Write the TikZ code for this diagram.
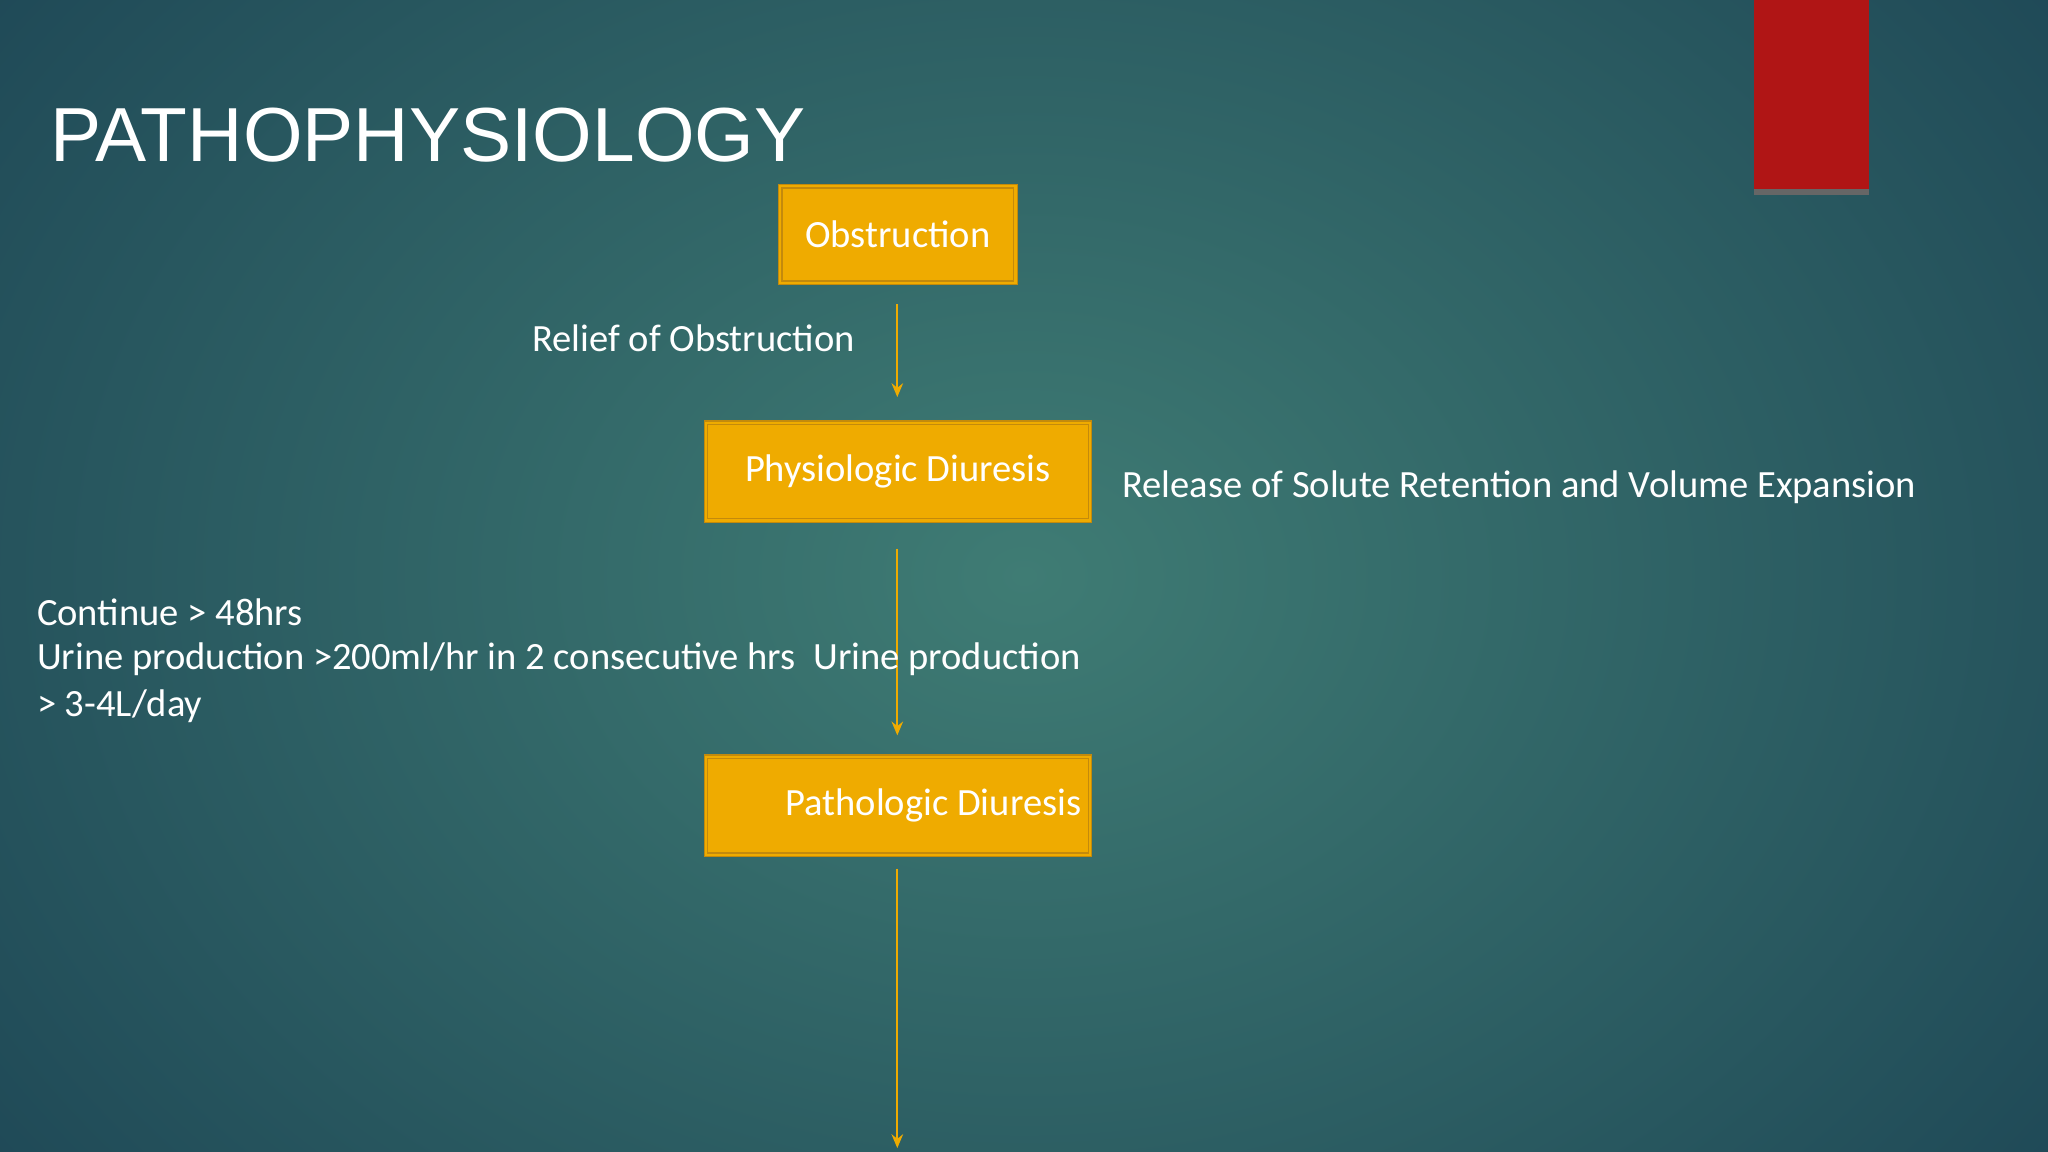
\documentclass[tikz,border=0pt]{standalone}
\usepackage{fontspec}
\setmainfont{Carlito}
\newfontfamily\titlefont{Liberation Sans}
\usetikzlibrary{arrows.meta}
\definecolor{bgc}{HTML}{3F7C74}
\definecolor{bge}{HTML}{1C4454}
\definecolor{boxf}{HTML}{EFAB00}
\definecolor{boxd}{HTML}{C38A0C}
\definecolor{redb}{HTML}{B01515}
\tikzset{
  flow/.style={draw=boxd, line width=0.6pt, double=boxf, double distance=0.9pt, fill=boxf, text=white, font=\fontsize{16.8}{20}\selectfont, inner sep=0pt},
  conn/.style={draw=boxf, line width=0.9pt, -{Stealth[length=6pt,width=5pt]}},
  lbl/.style={text=white, font=\fontsize{16.8}{20}\selectfont, inner sep=0pt}
}
\begin{document}
\begin{tikzpicture}[x=0.02cm,y=-0.02cm]
\useasboundingbox (0,0) rectangle (1568,882);
\shade[inner color=bgc, outer color=bge] (-300,-400) rectangle (1868,1282);
\fill[black!60] (1343,144) rectangle (1431,149);
\fill[redb] (1343,0) rectangle (1431,145);
\node[anchor=base west, text=white, font=\titlefont\fontsize{33.4}{38}\selectfont, inner sep=0pt] (title) at (38,124) {PATHOPHYSIOLOGY};
\node[flow, minimum width=180*0.02cm, minimum height=74*0.02cm] (obs) at (687.5,179.5) {Obstruction};
\node[flow, minimum width=294*0.02cm, minimum height=75*0.02cm] (phy) at (687.5,361) {Physiologic Diuresis};
\node[flow, minimum width=294*0.02cm, minimum height=75*0.02cm] (pat) at (687.5,617) {};
\node[lbl, anchor=west] (patt) at (601,617) {Pathologic Diuresis};
\coordinate (a1) at (687,233); \coordinate (b1) at (687,304);
\coordinate (a2) at (687,420); \coordinate (b2) at (687,563);
\coordinate (a3) at (687,665); \coordinate (b3) at (687,879);
\draw[conn] (a1) -- (b1);
\draw[conn] (a2) -- (b2);
\draw[conn] (a3) -- (b3);
\node[lbl] (rel) at (531,259) {Relief of Obstruction};
\node[lbl, anchor=west] (rsr) at (859,373) {Release of Solute Retention and Volume Expansion};
\node[lbl, anchor=west] (c1) at (28,469) {Continue > 48hrs};
\node[lbl, anchor=west] (c2) at (28,505) {Urine production >200ml/hr in 2 consecutive hrs\ \ Urine production};
\node[lbl, anchor=west] (c3) at (28,541) {> 3-4L/day};
\end{tikzpicture}
\end{document}
